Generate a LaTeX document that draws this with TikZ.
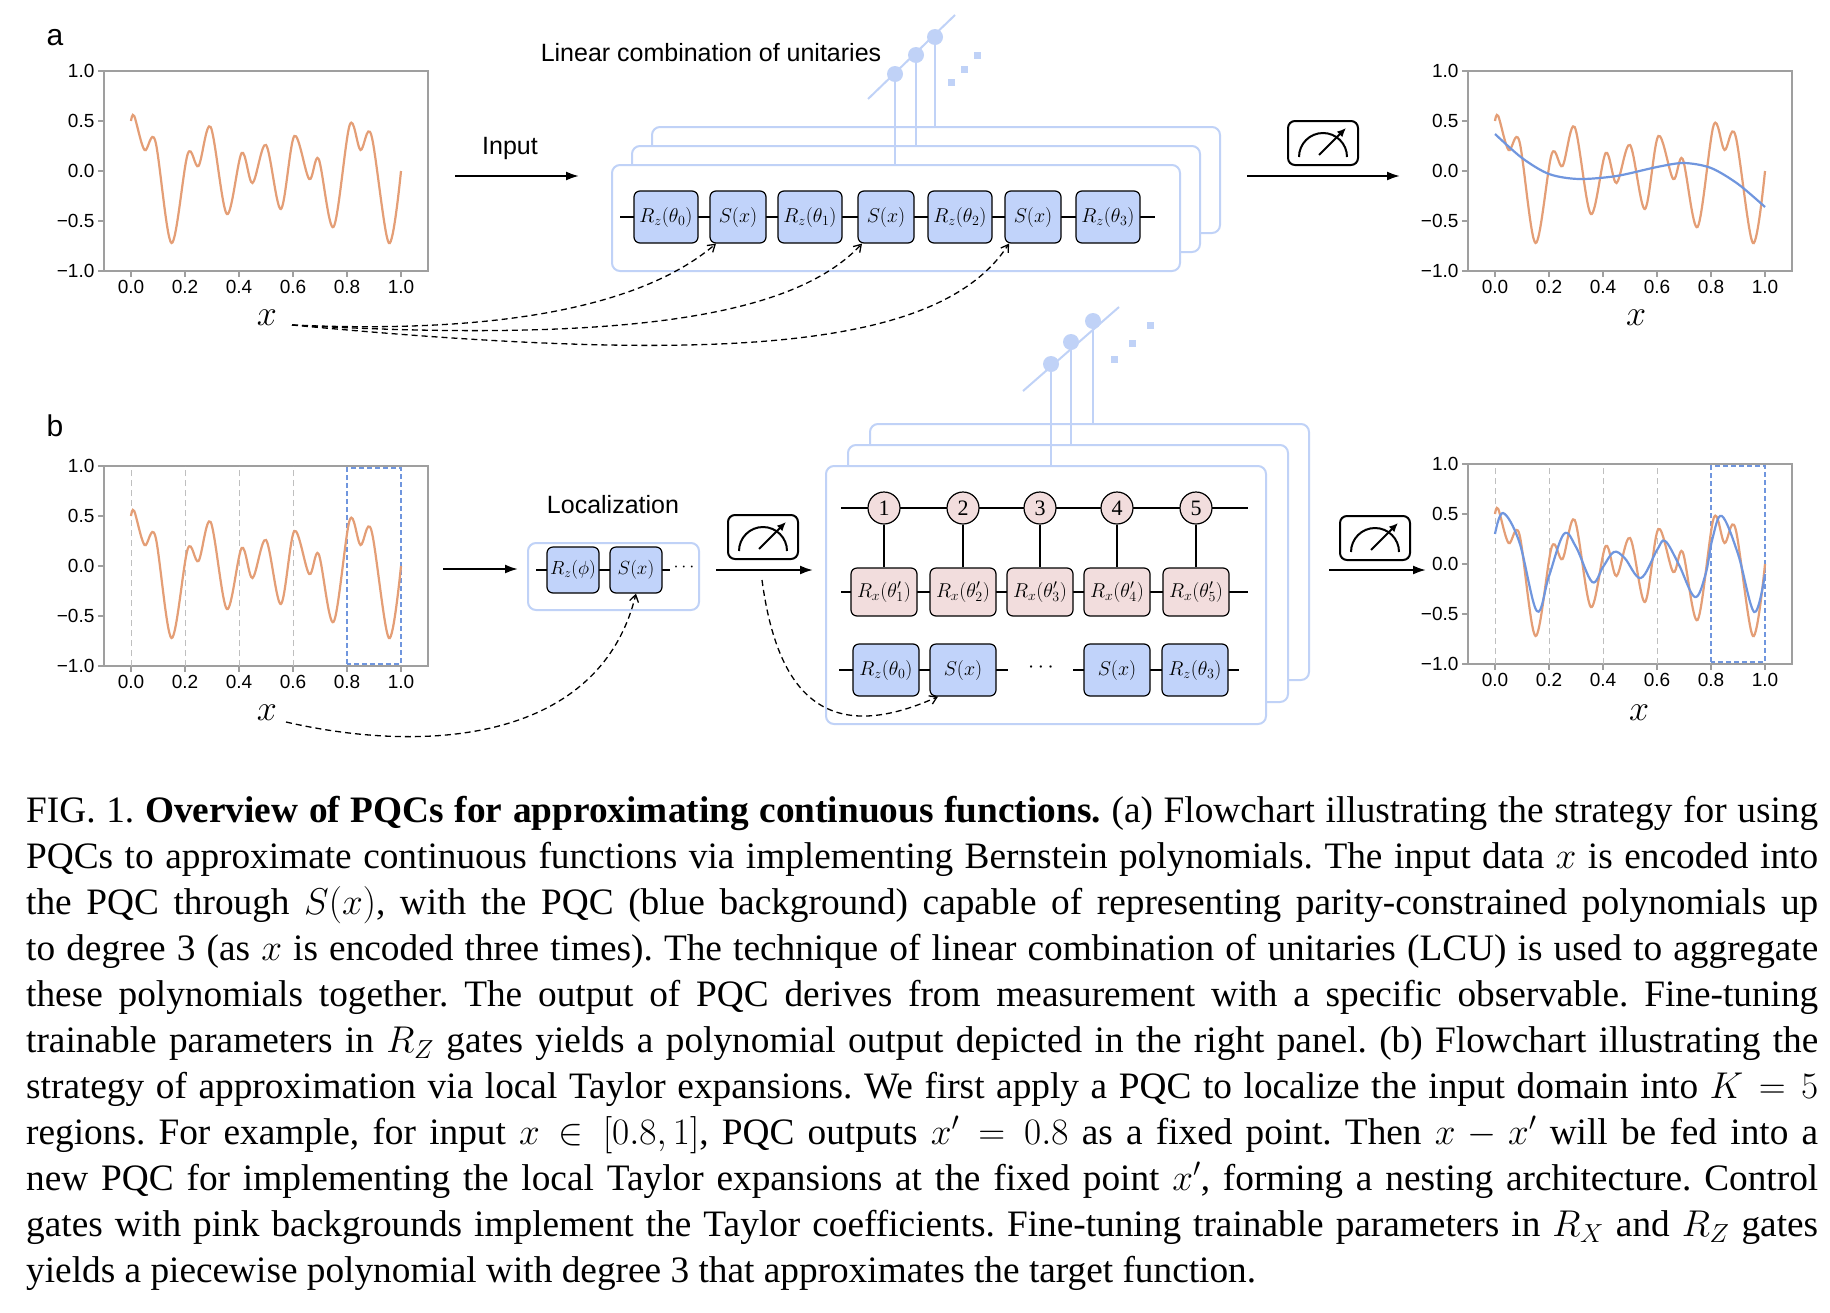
\RequirePackage{fix-cm}
\documentclass[tikz,border=0pt]{standalone}
\usepackage{fontspec}
\setmainfont{Liberation Serif}
\newfontfamily\plotfont{Liberation Sans}
\usetikzlibrary{arrows.meta,positioning,calc}
\definecolor{gateblue}{RGB}{193,211,250}
\definecolor{gatepink}{RGB}{242,221,221}
\definecolor{frameblue}{RGB}{192,210,247}
\definecolor{curveorange}{RGB}{228,158,118}
\definecolor{curveblue}{RGB}{112,150,222}
\newcommand\mn{\char"2212\relax}
\tikzset{
    gate/.style={draw, line width=1.2pt, rounded corners=6pt, fill=gateblue, minimum height=52pt, minimum width=#1, inner sep=0pt, font=\fontsize{20}{20}\selectfont},
    gate/.default=64pt,
    pgate/.style={gate=66pt, fill=gatepink, minimum height=48pt},
    ctrl/.style={draw, circle, fill=gatepink, line width=1.2pt, minimum size=32pt, inner sep=0pt, font=\fontsize{22}{22}\selectfont},
    layer/.style={draw=frameblue, line width=2pt, rounded corners=8pt, fill=white},
    wire/.style={line width=1.2pt},
    flow/.style={-{Latex[length=13pt, width=9pt]}, line width=2pt},
    feed/.style={line width=1.3pt, dash pattern=on 6pt off 4pt, -{Straight Barb[length=7pt, width=9pt]}},
    meterbox/.style={draw, line width=2pt, rounded corners=7pt, minimum width=70pt, minimum height=44pt},
    lcu/.style={draw=frameblue, line width=2pt},
    lcudot/.style={circle, fill=frameblue, minimum size=16pt, inner sep=0pt},
    lcusq/.style={fill=frameblue, minimum size=7pt, inner sep=0pt},
    frame/.style={draw=gray!75, line width=1.2pt},
    tick/.style={font=\plotfont\fontsize{19}{19}\selectfont, inner sep=3pt},
    label/.style={font=\plotfont\fontsize{25}{25}\selectfont},
    varx/.style={font=\fontsize{36}{36}\selectfont, inner sep=2pt},
    target/.style={curveorange, line width=2.2pt},
    fitted/.style={curveblue, line width=2.2pt},
    grid/.style={gray!50, line width=1pt, dash pattern=on 6pt off 4pt}
}
% plot frame with ticks: #1 x of 0, #2 y of the zero line
\newcommand\plotaxes[2]{%
  \begin{scope}[shift={(#1,#2)}, x=270pt, y=100pt]
    \draw[frame] (-0.1,-1) rectangle (1.1,1);
    \foreach \v/\t in {1/1.0, 0.5/0.5, 0/0.0, -0.5/\mn0.5, -1/\mn1.0}
      \draw[frame] (-0.1,\v) -- ++(-6pt,0) node[tick, anchor=east] {\t};
    \foreach \u/\t in {0/0.0, 0.2/0.2, 0.4/0.4, 0.6/0.6, 0.8/0.8, 1/1.0}
      \draw[frame] (\u,-1) -- ++(0,-6pt) node[tick, anchor=north] {\t};
  \end{scope}}
\newcommand\targetcurve[2]{%
  \begin{scope}[shift={(#1,#2)}, x=270pt, y=100pt]
    \draw[target] plot[smooth, tension=0.55] coordinates {(0,0.5) (0.012,0.55) (0.05,0.21) (0.09,0.3) (0.15,-0.72) (0.21,0.17) (0.25,0.05) (0.295,0.44) (0.355,-0.43) (0.41,0.18) (0.45,-0.12) (0.5,0.26) (0.555,-0.38) (0.605,0.35) (0.66,-0.08) (0.695,0.12) (0.75,-0.56) (0.81,0.46) (0.85,0.21) (0.89,0.36) (0.955,-0.72) (1,0)};
  \end{scope}}
\newcommand\regions[2]{%
  \begin{scope}[shift={(#1,#2)}, x=270pt, y=100pt]
    \foreach \u in {0,0.2,0.4,0.6} \draw[grid] (\u,-1) -- (\u,1);
    \draw[curveblue, line width=1.3pt, dash pattern=on 5pt off 3pt] (0.8,-0.98) rectangle (1,0.98);
  \end{scope}}
% measurement box
\newcommand\meter[3]{%
  \node[meterbox] (#1) at (#2,#3) {};
  \draw[line width=2pt] ([xshift=-24pt, yshift=-14pt]#1.center) arc[start angle=180, end angle=0, radius=24pt];
  \draw[line width=2pt, -{Latex[length=9pt, width=8pt]}] ([xshift=-4pt, yshift=-12pt]#1.center) -- ++(27pt,27pt);}
\begin{document}
\begin{tikzpicture}[x=1pt, y=-1pt]
    \useasboundingbox[fill=white] (0,0) rectangle (1830,1312);

    % Panel a
    \node[font=\plotfont\fontsize{30}{30}\selectfont] (tag-a) at (55,38) {a};
    \plotaxes{131}{171}
    \targetcurve{131}{171}
    \node[varx] (xa) at (267,318) {$x$};

    \coordinate (in-a0) at (455,176);
    \coordinate (in-a1) at (579,176);
    \draw[flow] (in-a0) -- (in-a1);
    \node[label] (input) at (510,148) {Input};
    \node[label] (lcu-text) at (711,53) {Linear combination of unitaries};

    \draw[layer] (652,127) rectangle (1220,233);
    \draw[layer] (632,146) rectangle (1200,252);
    \draw[layer] (612,165) rectangle (1180,271);
    \draw[lcu] (895,165) -- (895,74);
    \draw[lcu] (916,146) -- (916,55);
    \draw[lcu] (935,127) -- (935,38);
    \draw[lcu] (868,99) -- (955,15);
    \foreach \x/\y in {895/74, 916/55, 935/37} \node[lcudot] at (\x,\y) {};
    \foreach \x/\y in {951/82, 964/69, 977/55} \node[lcusq] at (\x,\y) {};

    \coordinate (wa0) at (620,217);
    \coordinate (wa1) at (1155,217);
    \draw[wire] (wa0) -- (wa1);
    \node[gate] (ra0) at (666,217) {$R_z(\theta_0)$};
    \node[gate=56pt] (sa1) at (738,217) {$S(x)$};
    \node[gate] (ra1) at (810,217) {$R_z(\theta_1)$};
    \node[gate=56pt] (sa2) at (886,217) {$S(x)$};
    \node[gate] (ra2) at (960,217) {$R_z(\theta_2)$};
    \node[gate=56pt] (sa3) at (1033,217) {$S(x)$};
    \node[gate] (ra3) at (1108,217) {$R_z(\theta_3)$};

    \coordinate (xa-tail) at (292,325);
    \draw[feed] (xa-tail) .. controls (520,335) and (650,300) .. ([xshift=-22pt]sa1.south);
    \draw[feed] (xa-tail) .. controls (650,345) and (800,310) .. ([xshift=-24pt]sa2.south);
    \draw[feed] (xa-tail) .. controls (720,365) and (940,350) .. ([xshift=-24pt]sa3.south);

    \meter{ma}{1323}{143}
    \coordinate (out-a0) at (1247,176);
    \coordinate (out-a1) at (1400,176);
    \draw[flow] (out-a0) -- (out-a1);

    \plotaxes{1495}{171}
    \targetcurve{1495}{171}
    \begin{scope}[shift={(1495,171)}, x=270pt, y=100pt]
      \draw[fitted] plot[smooth] coordinates {(0,0.37) (0.1,0.13) (0.2,-0.03) (0.31,-0.08) (0.45,-0.05) (0.6,0.04) (0.7,0.08) (0.8,0.03) (0.9,-0.13) (1,-0.36)};
    \end{scope}
    \node[varx] (xa-out) at (1636,318) {$x$};

    % Panel b
    \node[font=\plotfont\fontsize{30}{30}\selectfont] (tag-b) at (55,426) {b};
    \plotaxes{131}{566}
    \regions{131}{566}
    \targetcurve{131}{566}
    \node[varx] (xb) at (267,713) {$x$};

    \coordinate (in-b0) at (443,569);
    \coordinate (in-b1) at (518,569);
    \draw[flow] (in-b0) -- (in-b1);
    \node[label] (loc-text) at (613,505) {Localization};
    \draw[layer] (528,543) rectangle (699,610);
    \coordinate (wl0) at (536,570);
    \coordinate (wl1) at (670,570);
    \draw[wire] (wl0) -- (wl1);
    \node[gate=52pt, minimum height=46pt, font=\fontsize{19}{19}\selectfont] (rl) at (573,570) {$R_z(\phi)$};
    \node[gate=52pt, minimum height=46pt, font=\fontsize{19}{19}\selectfont] (sl) at (636,570) {$S(x)$};
    \node[font=\fontsize{18}{18}\selectfont] (dots-l) at (684,567) {$\cdots$};
    \coordinate (xb-tail) at (286,722);
    \draw[feed] (xb-tail) .. controls (430,755) and (600,740) .. (sl.south);

    \meter{mb}{763}{537}
    \coordinate (mid-b0) at (716,570);
    \coordinate (mid-b1) at (813,570);
    \draw[flow] (mid-b0) -- (mid-b1);

    \draw[layer] (870,424) rectangle (1309,680);
    \draw[layer] (848,445) rectangle (1288,702);
    \draw[layer] (826,466) rectangle (1266,724);
    \draw[lcu] (1051,466) -- (1051,364);
    \draw[lcu] (1071,445) -- (1071,342);
    \draw[lcu] (1093,424) -- (1093,321);
    \draw[lcu] (1023,391) -- (1119,307);
    \foreach \x/\y in {1051/364, 1071/342, 1093/321} \node[lcudot] at (\x,\y) {};
    \foreach \x/\y in {1114/359, 1132/343, 1150/325} \node[lcusq] at (\x,\y) {};

    \coordinate (wc0) at (841,508);
    \coordinate (wc1) at (1248,508);
    \coordinate (wr0) at (841,592);
    \coordinate (wr1) at (1248,592);
    \draw[wire] (wc0) -- (wc1);
    \draw[wire] (wr0) -- (wr1);
    \foreach \k/\x in {1/884, 2/963, 3/1040, 4/1117, 5/1196} {
      \node[pgate] (rx\k) at (\x,592) {$R_x(\theta'_\k)$};
      \node[ctrl] (c\k) at (\x,508) {\k};
      \draw[wire] (c\k) -- (rx\k);
    }
    \coordinate (wz0) at (839,670);
    \coordinate (wz1) at (1008,670);
    \coordinate (wz2) at (1073,670);
    \coordinate (wz3) at (1239,670);
    \draw[wire] (wz0) -- (wz1);
    \draw[wire] (wz2) -- (wz3);
    \node[gate=66pt] (rb0) at (886,670) {$R_z(\theta_0)$};
    \node[gate=66pt] (sb1) at (963,670) {$S(x)$};
    \node[font=\fontsize{22}{22}\selectfont] (dots-b) at (1041,668) {$\cdots$};
    \node[gate=66pt] (sb3) at (1117,670) {$S(x)$};
    \node[gate=66pt] (rb3) at (1195,670) {$R_z(\theta_3)$};
    \coordinate (tap) at (762,580);
    \draw[feed] (tap) .. controls (778,700) and (830,745) .. ([xshift=-25pt]sb1.south);

    \meter{mc}{1375}{538}
    \coordinate (out-b0) at (1329,570);
    \coordinate (out-b1) at (1426,570);
    \draw[flow] (out-b0) -- (out-b1);

    \plotaxes{1495}{564}
    \regions{1495}{564}
    \targetcurve{1495}{564}
    \begin{scope}[shift={(1495,564)}, x=270pt, y=100pt]
      \draw[fitted] plot[smooth, tension=0.6] coordinates {(0,0.3) (0.03,0.51) (0.09,0.22) (0.155,-0.47) (0.2,-0.12) (0.255,0.3) (0.3,0.17) (0.36,-0.18) (0.4,-0.03) (0.44,0.12) (0.48,0.06) (0.54,-0.14) (0.6,0.14) (0.63,0.23) (0.68,0.0) (0.74,-0.33) (0.78,-0.1) (0.805,0.25) (0.84,0.48) (0.9,0.1) (0.96,-0.48) (1,-0.1)};
    \end{scope}
    \node[varx] (xb-out) at (1639,713) {$x$};

    % caption
    \node[anchor=north west, inner sep=0pt, text width=1792pt, align=justify, font=\fontsize{37.3}{46}\selectfont\frenchspacing] (caption) at (26,796) {%
    FIG.~1. \textbf{Overview of PQCs for approximating continuous functions.} (a) Flowchart illustrating the strategy for using\linebreak
    PQCs to approximate continuous functions via implementing Bernstein polynomials. The input data $x$ is encoded into\linebreak
    the PQC through $S(x)$, with the PQC (blue background) capable of representing parity-constrained polynomials up\linebreak
    to degree 3 (as $x$ is encoded three times). The technique of linear combination of unitaries (LCU) is used to aggregate\linebreak
    these polynomials together. The output of PQC derives from measurement with a specific observable. Fine-tuning\linebreak
    trainable parameters in $R_Z$ gates yields a polynomial output depicted in the right panel. (b) Flowchart illustrating the\linebreak
    strategy of approximation via local Taylor expansions. We first apply a PQC to localize the input domain into $K=5$\linebreak
    regions. For example, for input $x\in[0.8,1]$, PQC outputs $x'=0.8$ as a fixed point. Then $x-x'$ will be fed into a\linebreak
    new PQC for implementing the local Taylor expansions at the fixed point $x'$, forming a nesting architecture. Control\linebreak
    gates with pink backgrounds implement the Taylor coefficients. Fine-tuning trainable parameters in $R_X$ and $R_Z$ gates\linebreak
    yields a piecewise polynomial with degree 3 that approximates the target function.};
\end{tikzpicture}
\end{document}
